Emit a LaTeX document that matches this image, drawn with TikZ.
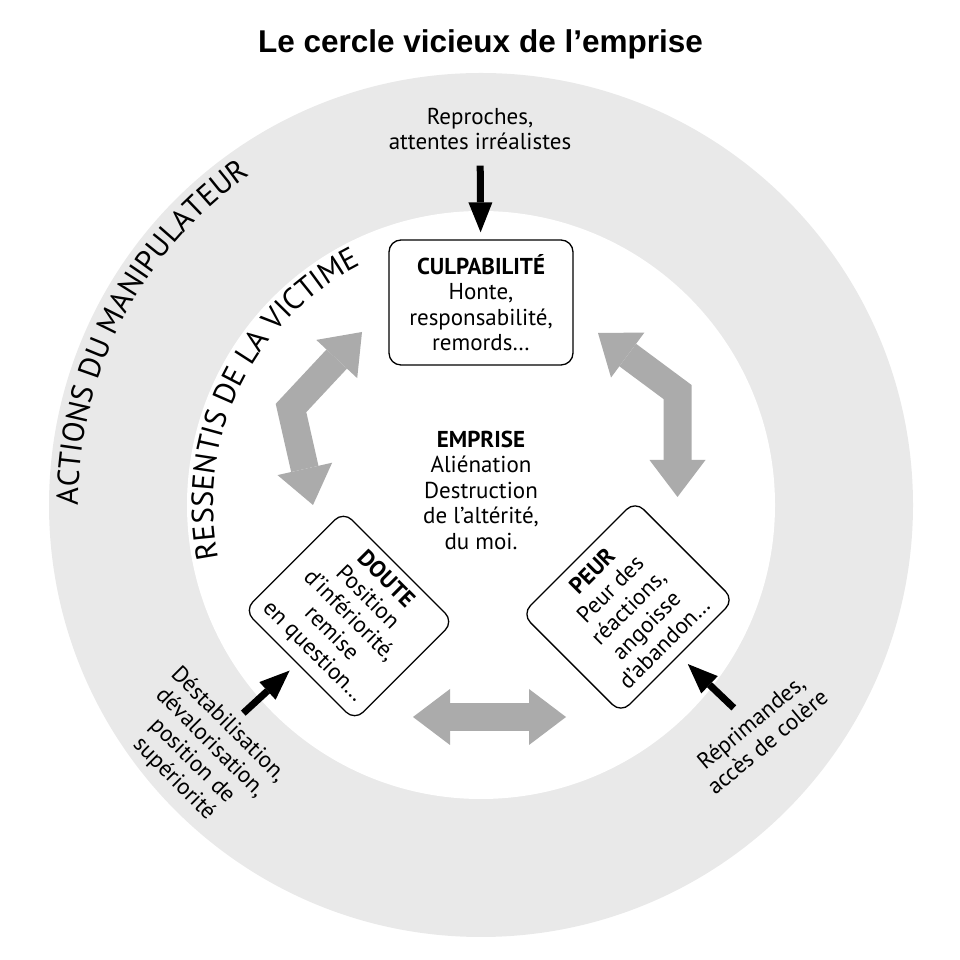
\documentclass[tikz,border=0pt]{standalone}
\usepackage{fontspec}
\setmainfont{PT Sans}
\newfontfamily\titrefont{Liberation Sans}
\usetikzlibrary{arrows.meta}
\usetikzlibrary{decorations.text}
\usetikzlibrary{calc}

\definecolor{anneau}{RGB}{233,233,233}
\definecolor{fleche}{RGB}{171,171,171}

\begin{document}
\begin{tikzpicture}[x=1pt, y=1pt,
    boite/.style={draw, line width=1.3pt, rounded corners=12pt, fill=white, align=center, inner sep=3pt, font=\fontsize{23}{25.5}\selectfont},
    texte/.style={align=center, font=\fontsize{23}{25.5}\selectfont},
    grosse/.style={draw=fleche, line width=28pt, line join=miter, >={Triangle[width=56pt,length=37pt,line width=0pt]}, <->},
    pousse/.style={draw=black, line width=7pt, >={Triangle[width=24pt,length=30pt,line width=0pt]}, ->}]
      \useasboundingbox (0,0) rectangle (960,960);
      \coordinate (centre) at (481,455);

      \node[anchor=base, font=\titrefont\bfseries\fontsize{31.5}{31.5}\selectfont] (titre) at (480.5,907) {Le cercle vicieux de l’emprise};

      \fill[anneau] (centre) circle[radius=432];
      \fill[white] (centre) circle[radius=294];

      \path[decorate, decoration={text along path, text align=center, text={|\fontsize{30.5}{30.5}\selectfont|ACTIONS DU MANIPULATEUR}}]
        ([shift={(185:403)}]centre) arc[start angle=185, end angle=120, radius=403];
      \path[decorate, decoration={text along path, text align=center, text={|\fontsize{30.5}{30.5}\selectfont|RESSENTIS DE LA VICTIME}}]
        ([shift={(195:268)}]centre) arc[start angle=195, end angle=113, radius=268];

      \node[boite, minimum width=184pt, minimum height=125pt] (culpa) at (481,657.5)
        {{\bfseries CULPABILITÉ}\\Honte,\\responsabilité,\\remords…};
      \node[boite, rotate=-45, minimum width=156pt, minimum height=140pt] (doute) at (349,344)
        {{\bfseries DOUTE}\\Position\\d’infériorité,\\remise\\en question…};
      \node[boite, rotate=45, minimum width=160pt, minimum height=140pt] (peur) at (628,353)
        {{\bfseries PEUR}\\Peur des\\réactions,\\angoisse\\d’abandon…};

      \node[texte] (emprise) at (481,470) {{\bfseries EMPRISE}\\Aliénation\\Destruction\\de l’altérité,\\du moi.};
      \node[texte] (reproches) at (480,831) {Reproches,\\attentes irréalistes};
      \node[texte, rotate=-45] (destab) at (201,208) {Déstabilisation,\\dévalorisation,\\position de\\supériorité};
      \node[texte, rotate=40] (reprim) at (759,228) {Réprimandes,\\accès de colère};

      \coordinate (g1) at (362,628);
      \coordinate (g2) at (291,552);
      \coordinate (g3) at (313,455);
      \coordinate (d1) at (598,627);
      \coordinate (d2) at (677.5,568);
      \coordinate (d3) at (677.5,463);
      \coordinate (b1) at (413,243);
      \coordinate (b2) at (566,243);
      \draw[grosse] (g1) -- (g2) -- (g3);
      \draw[grosse] (d1) -- (d2) -- (d3);
      \draw[grosse] (b1) -- (b2);

      \foreach \a/\b/\s/\t in {reproches/culpa/12pt/7pt, destab/doute/5pt/10pt, reprim/peur/10pt/12pt}
        \draw[pousse, shorten <=\s, shorten >=\t] (\a) -- (\b);
    \end{tikzpicture}
\end{document}
